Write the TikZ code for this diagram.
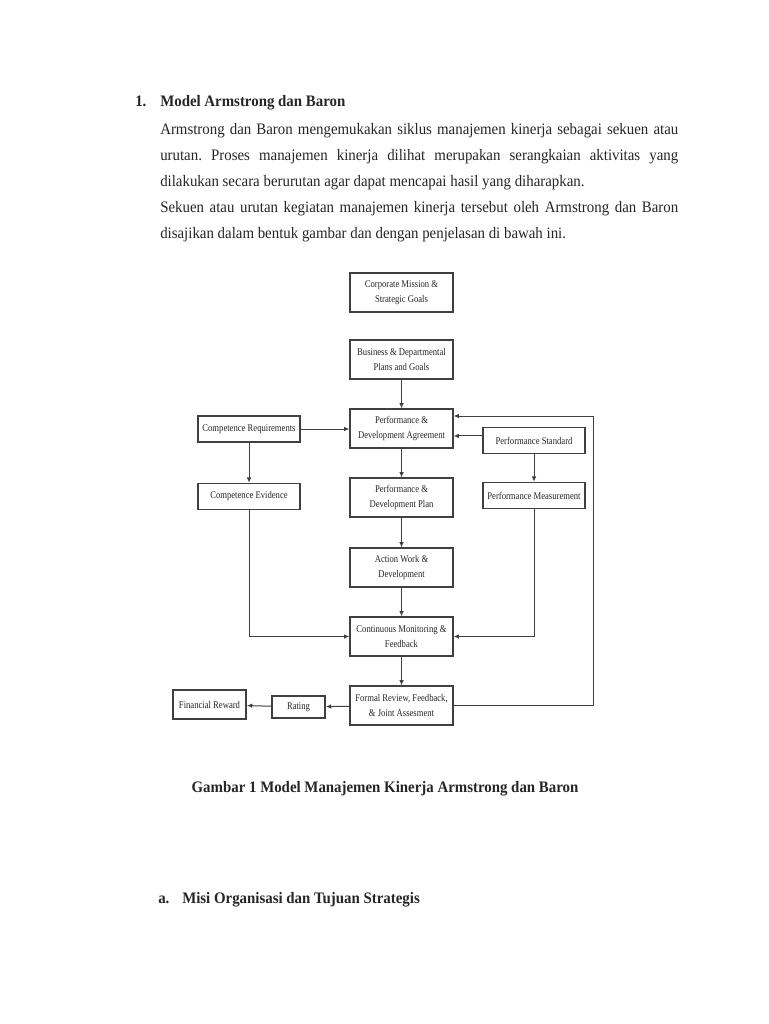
\documentclass[tikz,border=0pt]{standalone}
\usepackage{fontspec}
\setmainfont[FakeStretch=0.93]{Liberation Serif}
\newfontfamily\boxfont[FakeStretch=0.84]{Liberation Serif}
\usetikzlibrary{arrows.meta,positioning,shadows}
\frenchspacing
\tikzstyle{box} = [rectangle, draw=black!75, line width=1.1pt, fill=white, text=black!85, font=\boxfont\fontsize{7.7}{11.2}\selectfont, align=center, inner sep=0pt, drop shadow={shadow xshift=0.6pt, shadow yshift=-0.6pt, fill=black!40}]
\tikzstyle{mainbox} = [box, minimum width=77pt, minimum height=29pt]
\tikzstyle{sidebox} = [box, minimum width=76.5pt, minimum height=19.5pt]
\tikzstyle{arrow} = [line width=0.75pt, draw=black!75, -{Latex[length=4pt,width=3.5pt]}]
\tikzstyle{txt} = [anchor=base west, inner sep=0pt, text=black!85, font=\fontsize{12}{19.5}\selectfont]
\tikzstyle{body} = [anchor=north west, inner sep=0pt, text width=388.5pt, align=justify, text=black!85, font=\fontsize{12}{19.5}\selectfont]
\begin{document}
\begin{tikzpicture}[x=0.75pt,y=-0.75pt]
\fill[white] (0,0) rectangle (768,1024);
\useasboundingbox (0,0) rectangle (768,1024);

% heading and text
\node[txt] (num) at (135,107) {\textbf{1.}};
\node[txt] (title) at (160,107) {\textbf{Model Armstrong dan Baron}};
\node[body] (para) at (160,123) {Armstrong dan Baron mengemukakan siklus manajemen kinerja sebagai sekuen atau\linebreak urutan. Proses manajemen kinerja dilihat merupakan serangkaian aktivitas yang\linebreak dilakukan secara berurutan agar dapat mencapai hasil yang diharapkan.\par
Sekuen atau urutan kegiatan manajemen kinerja tersebut oleh Armstrong dan Baron\linebreak disajikan dalam bentuk gambar dan dengan penjelasan di bawah ini.};

% the cycle
\node[mainbox] (corp) at (401.5,292.5) {Corporate Mission \&\\Strategic Goals};
\node[mainbox] (bus) at (401.5,359.5) {Business \& Departmental\\Plans and Goals};
\node[mainbox] (agr) at (401.5,428.5) {Performance \&\\Development Agreement};
\node[mainbox] (plan) at (401.5,497.5) {Performance \&\\Development Plan};
\node[mainbox] (act) at (401.5,567.5) {Action Work \&\\Development};
\node[mainbox] (mon) at (401.5,636.5) {Continuous Monitoring \&\\Feedback};
\node[mainbox] (rev) at (401.5,705.5) {Formal Review, Feedback,\\\& Joint Assesment};
\node[sidebox] (creq) at (249,429) {Competence Requirements};
\node[sidebox] (cev) at (249,496.5) {Competence Evidence};
\node[sidebox] (pstd) at (534,440.5) {Performance Standard};
\node[sidebox] (pmeas) at (534,495.5) {Performance Measurement};
\node[box, minimum width=40pt, minimum height=16.5pt] (rating) at (298.5,707) {Rating};
\node[box, minimum width=55pt, minimum height=22pt] (fin) at (209.5,704.5) {Financial Reward};
\coordinate (back) at (593,416);

\draw[arrow] (bus) -- (agr);
\draw[arrow] (agr) -- (plan);
\draw[arrow] (plan) -- (act);
\draw[arrow] (act) -- (mon);
\draw[arrow] (mon) -- (rev);
\draw[arrow] (creq) -- (agr.west |- creq);
\draw[arrow] ([yshift=3.4pt]pstd.west) -- ([yshift=3.4pt]pstd.west -| agr.east);
\draw[arrow] (creq) -- (cev);
\draw[arrow] (pstd) -- (pmeas);
\draw[arrow] (cev.south) |- (mon.west);
\draw[arrow] (pmeas.south) |- (mon.east);
\draw[arrow] (rev.east) -| (back) -- (agr.east |- back);
\draw[arrow] (rev) -- (rating);
\draw[arrow] (rating) -- (fin);

% caption
\node[txt, anchor=base] (cap) at (385,792) {\textbf{Gambar 1 Model Manajemen Kinerja Armstrong dan Baron}};
\node[txt] (sub) at (158,903) {\textbf{a.}};
\node[txt] (subtitle) at (182,903) {\textbf{Misi Organisasi dan Tujuan Strategis}};
\end{tikzpicture}
\end{document}
